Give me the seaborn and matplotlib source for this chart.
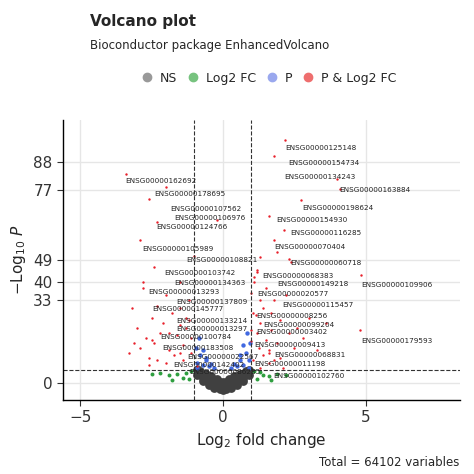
import numpy as np
import pandas as pd
import matplotlib.pyplot as plt
import seaborn as sns

# labelled genes: label position (x, y) in data units and point position
genes = ['ENSG00000125148', 'ENSG00000154734', 'ENSG00000134243', 'ENSG00000163884',
         'ENSG00000162692', 'ENSG00000178695', 'ENSG00000107562', 'ENSG00000106976',
         'ENSG00000124766', 'ENSG00000198624', 'ENSG00000154930', 'ENSG00000116285',
         'ENSG00000070404', 'ENSG00000105989', 'ENSG00000108821', 'ENSG00000060718',
         'ENSG00000103742', 'ENSG00000068383', 'ENSG00000134363', 'ENSG00000149218',
         'ENSG00000109906', 'ENSG00000013293', 'ENSG00000020577', 'ENSG00000137809',
         'ENSG00000115457', 'ENSG00000145777', 'ENSG00000008256', 'ENSG00000133214',
         'ENSG00000099204', 'ENSG00000013297', 'ENSG00000003402', 'ENSG00000100784',
         'ENSG00000179593', 'ENSG00000183508', 'ENSG00000009413', 'ENSG00000068831',
         'ENSG00000022567', 'ENSG00000142402', 'ENSG00000011198', 'ENSG00000086285',
         'ENSG00000102760']
label_x = [2.18, 2.30, 2.16, 4.09, -3.41, -2.40, -1.85, -1.70, -2.32, 2.79, 1.88, 2.37,
           1.79, -2.81, -1.27, 2.35, -2.05, 1.39, -1.71, 1.89, 4.85, -2.60, 1.21, -1.62,
           2.09, -2.49, 1.18, -1.65, 1.41, -1.65, 1.18, -2.18, 4.84, -2.13, 1.10, 1.79,
           -1.25, -1.74, 1.10, -1.19, 1.75]
label_y = [93.9, 87.9, 82.0, 76.8, 80.4, 75.5, 69.5, 65.7, 62.1, 69.6, 64.9, 59.8,
           54.2, 53.4, 48.9, 47.6, 43.6, 42.6, 39.8, 39.3, 39.2, 36.2, 35.3, 32.4,
           31.2, 29.3, 26.8, 24.5, 22.9, 21.5, 20.1, 18.2, 16.5, 14.0, 15.2, 11.1,
           10.4, 7.1, 7.3, 4.4, 2.8]
gene_x = [2.18, 1.8, 4.0, 4.1, -3.4, -2.0, -2.6, -0.2, -2.3, 2.75, 1.6, 2.15,
          1.8, -2.9, -1.0, 2.3, -2.4, 1.2, -1.5, 1.1, 4.85, -2.8, 1.0, -1.2,
          1.8, -2.3, 1.05, -1.3, 1.3, -1.5, 1.0, -1.9, 4.8, -2.5, 1.0, 1.6,
          -1.1, -1.4, 1.05, -0.9, 1.3]
gene_y = [97.0, 90.5, 81.5, 77.5, 83.5, 78.0, 73.5, 65.0, 64.0, 73.0, 66.5, 61.0,
          57.0, 57.0, 50.5, 49.5, 46.0, 44.0, 40.0, 42.0, 43.0, 38.0, 36.0, 33.0,
          33.0, 30.5, 28.0, 26.0, 24.0, 23.0, 21.0, 20.0, 21.0, 17.0, 16.5, 13.0,
          12.0, 9.0, 9.0, 6.5, 6.0]

# other significant points (P & Log2 FC)
red_x = [-3.2, -3.0, -2.7, -2.9, -2.5, -2.2, -2.6, -2.0, -1.8, -3.3, -2.4, -1.6, -2.8,
         -2.1, -1.9, -1.5, -1.3, -3.1, -2.3, -1.7, -1.4, -2.6, -1.2, -1.1, -2.0, -1.5,
         1.2, 1.5, 1.7, 2.0, 2.3, 1.4, 1.9, 2.6, 1.3, 1.6, 2.2, 2.5, 1.1, 1.8, 2.8, 3.0,
         1.2, 1.4, 1.6, 2.1, 3.3, 1.3, 1.9, 2.4, 1.15, 1.5, 1.7, 2.0, 1.25, 3.6]
red_y = [30, 22, 18, 14, 26, 20, 10, 35, 28, 12, 16, 19, 40, 24, 13, 30, 22, 16, 9, 11,
         15, 7, 25, 18, 8, 12,
         45, 38, 28, 25, 20, 30, 16, 22, 50, 12, 35, 14, 40, 9, 18, 26,
         20, 11, 8, 6, 13, 33, 52, 48, 27, 17, 21, 10, 14, 24]
# P only (blue)
blue_x = [-0.9, -0.7, -0.5, -0.3, 0.3, 0.5, 0.7, 0.9, -0.8, -0.6, 0.6, 0.8, -0.4, 0.4,
          -0.95, 0.95, -0.7, 0.7, -0.85, 0.85, -0.6, 0.6, -0.9, 0.9]
blue_y = [8, 7, 6.5, 6, 6, 6.5, 7, 9, 11, 9, 9, 12, 7.5, 7.5, 14, 16, 13, 15, 18, 20,
          10, 11, 6, 6]
# Log2 FC only (green)
green_x = [-2.2, -1.9, -1.6, -1.4, -1.2, -1.1, 1.1, 1.2, 1.4, 1.6, 1.9, -1.8, 1.7,
           -1.3, 1.3, -2.5, 2.2]
green_y = [4, 3, 3.5, 2, 1.5, 4.5, 4.5, 1.5, 3, 2.5, 3.5, 1, 1, 4, 4.2, 3.5, 3]
# not significant (grey)
grey_x = [-0.9, -0.7, -0.5, -0.3, -0.1, 0.1, 0.3, 0.5, 0.7, 0.9, -0.8, -0.6, -0.4,
          -0.2, 0.0, 0.2, 0.4, 0.6, 0.8, -0.5, -0.3, -0.1, 0.1, 0.3, 0.5, -0.7, 0.7,
          -0.9, 0.9, -0.2, 0.2, 0.0]
grey_y = [3, 2, 1, 0.5, 0.2, 0.2, 0.5, 1, 2, 3, 4.5, 3.5, 2.5, 1.5, 0.3, 1.5, 2.5, 3.5,
          4.5, -1, -2, -2.5, -2.5, -2, -1, 0.5, 0.5, 5, 5, -1.5, -1.5, -2.8]

df = pd.concat([
    pd.DataFrame({'x': grey_x, 'y': grey_y, 'group': 'NS'}),
    pd.DataFrame({'x': green_x, 'y': green_y, 'group': 'Log2 FC'}),
    pd.DataFrame({'x': blue_x, 'y': blue_y, 'group': 'P'}),
    pd.DataFrame({'x': red_x + gene_x, 'y': red_y + gene_y, 'group': 'P & Log2 FC'}),
])

palette = {'NS': '#404040', 'Log2 FC': '#2e9e3f', 'P': '#4169e1', 'P & Log2 FC': '#e8202a'}
legend_cols = {'NS': '#999999', 'Log2 FC': '#77c37f', 'P': '#9aa8ee', 'P & Log2 FC': '#ee6e6e'}

sns.set_style('whitegrid')
fig = plt.figure(figsize=(4.74, 4.74), dpi=100)
ax = fig.add_axes([0.133, 0.156, 0.837, 0.591])

sizes = {'NS': 40, 'Log2 FC': 8, 'P': 10, 'P & Log2 FC': 3}
for g in ['NS', 'Log2 FC', 'P', 'P & Log2 FC']:
    sub = df[df.group == g]
    sns.scatterplot(data=sub, x='x', y='y', color=palette[g], s=sizes[g],
                    linewidth=0, ax=ax, legend=False)

for name, lx, ly in zip(genes, label_x, label_y):
    ax.text(lx, ly, name, fontsize=5.2, color='#222222', va='center', ha='left')

ax.axvline(-1, color='#333333', ls='--', lw=0.8)
ax.axvline(1, color='#333333', ls='--', lw=0.8)
ax.axhline(5.2, color='#333333', ls='--', lw=0.8)

ax.set_xlim(-5.6, 8.3)
ax.set_ylim(-7, 105)
ax.set_xticks([-5, 0, 5])
ax.set_yticks([0, 33, 40, 49, 77, 88])
ax.tick_params(labelsize=11, colors='#333333', length=4, left=True, bottom=True)
ax.grid(True, color='#e6e6e6', lw=1)
for sp in ['top', 'right']:
    ax.spines[sp].set_visible(False)
for sp in ['left', 'bottom']:
    ax.spines[sp].set_color('black')
    ax.spines[sp].set_linewidth(1)

ax.set_xlabel(r'$\mathrm{Log}_{2}$ fold change', fontsize=11)
ax.set_ylabel(r'$-\mathrm{Log}_{10}\ \mathit{P}$', fontsize=11)

fig.text(0.19, 0.955, 'Volcano plot', fontsize=11, fontweight='bold', va='center')
fig.text(0.19, 0.905, 'Bioconductor package EnhancedVolcano', fontsize=8.5, va='center')
fig.text(0.97, 0.025, 'Total = 64102 variables', fontsize=8.5, ha='right', va='center')

handles = [plt.Line2D([], [], marker='o', ls='', color=legend_cols[k], markersize=6, label=k)
           for k in legend_cols]
fig.legend(handles=handles, loc='center', bbox_to_anchor=(0.56, 0.835), ncol=4,
           frameon=False, fontsize=9, handletextpad=0.0, columnspacing=0.3)

fig.savefig('out.png', dpi=100)
